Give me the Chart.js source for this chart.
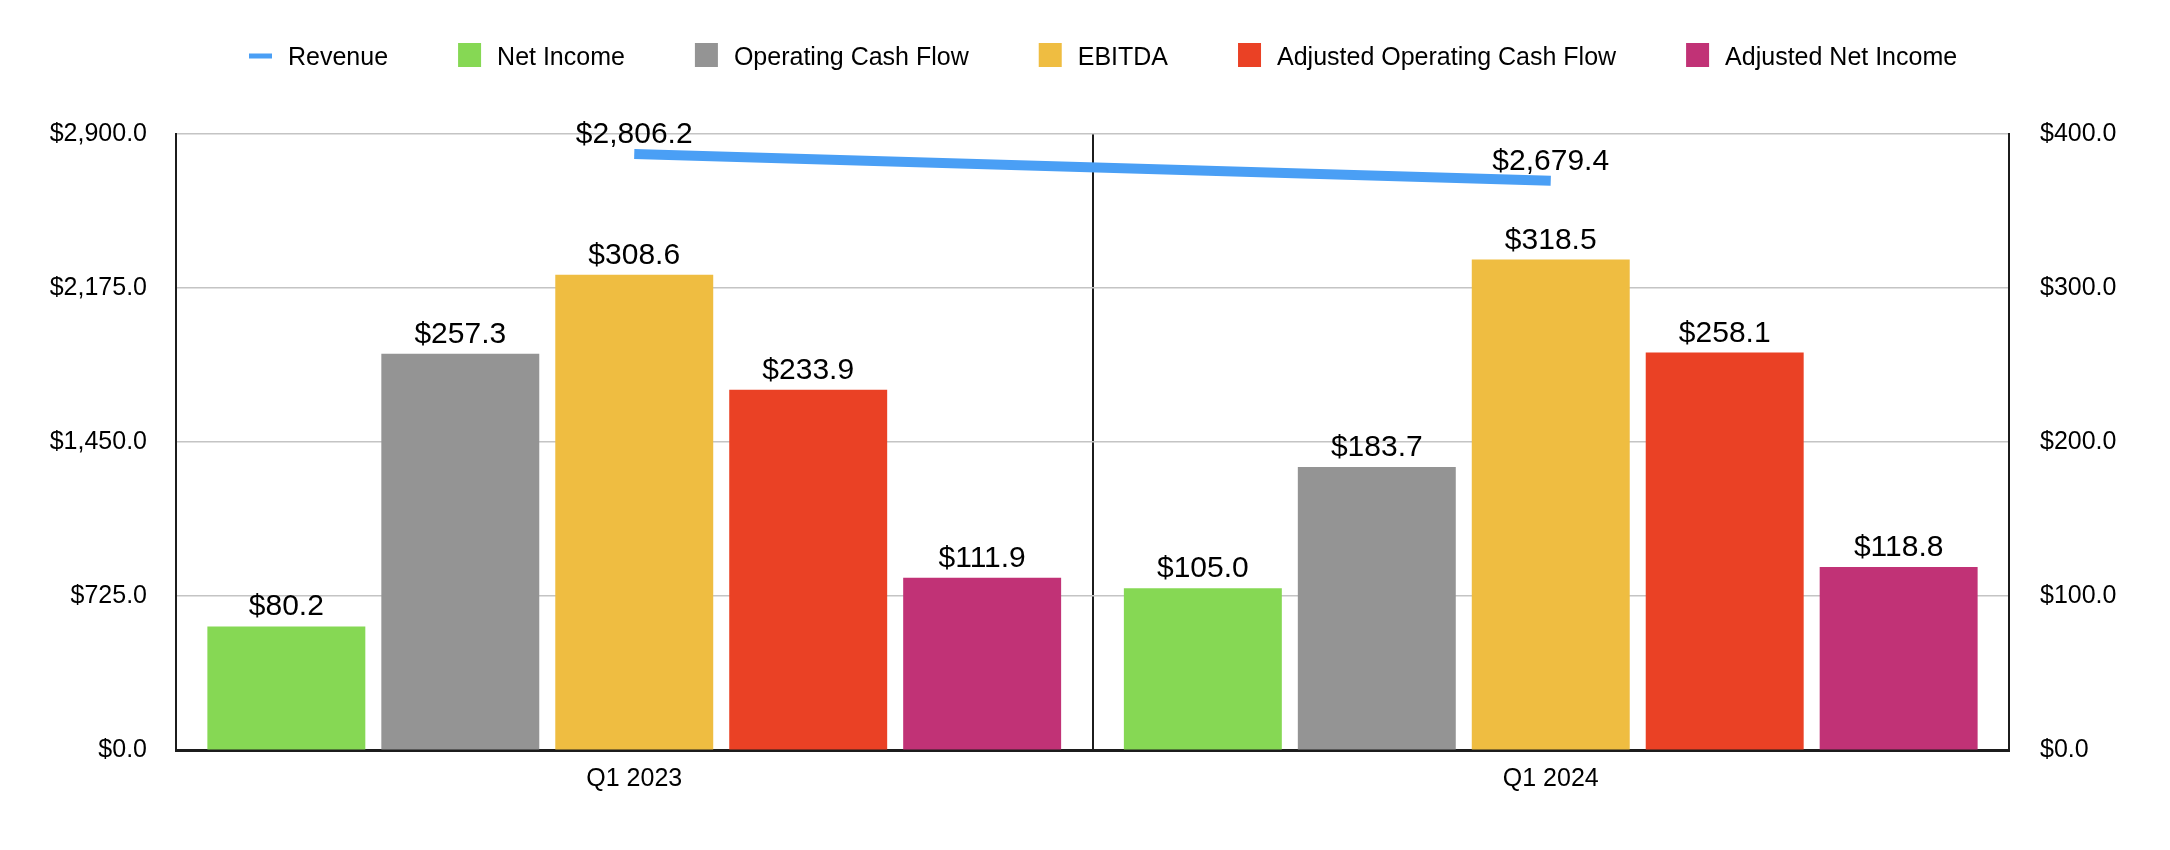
<!DOCTYPE html>
<html><head><meta charset="utf-8">
<script src="https://cdn.jsdelivr.net/npm/chart.js@4.4.1/dist/chart.umd.min.js"></script>
<style>html,body{margin:0;padding:0;background:#fff;} canvas{display:block;}</style>
</head><body>
<canvas id="c" width="2170" height="850" style="width:2170px;height:850px"></canvas>
<script>
const categories = ['Q1 2023', 'Q1 2024'];
const revenue = [2806.2, 2679.4];
const netIncome = [80.2, 105.0];
const operatingCashFlow = [257.3, 183.7];
const ebitda = [308.6, 318.5];
const adjustedOperatingCashFlow = [233.9, 258.1];
const adjustedNetIncome = [111.9, 118.8];
const leftTicks = [0, 725, 1450, 2175, 2900];
const rightTicks = [0, 100, 200, 300, 400];

const FONT = '"Liberation Sans", Arial, Helvetica, sans-serif';
const fmt = v => '$' + Number(v).toLocaleString('en-US', {minimumFractionDigits: 1, maximumFractionDigits: 1});

const legendPlugin = {
  id: 'customLegend',
  afterDraw(chart) {
    const ctx = chart.ctx;
    ctx.save();
    ctx.font = '25px ' + FONT;
    ctx.textBaseline = 'alphabetic';
    ctx.textAlign = 'left';
    let x = 249;
    chart.data.datasets.forEach(ds => {
      if (ds.type === 'line') {
        ctx.fillStyle = ds.borderColor;
        ctx.fillRect(x, 53.5, 23, 5);
      } else {
        ctx.fillStyle = ds.backgroundColor;
        ctx.fillRect(x, 43, 23, 24);
      }
      x += 23 + 16;
      ctx.fillStyle = '#000';
      ctx.fillText(ds.label, x, 65);
      x += ctx.measureText(ds.label).width + 70;
    });
    ctx.restore();
  }
};

const valueLabels = {
  id: 'valueLabels',
  afterDatasetsDraw(chart) {
    const ctx = chart.ctx;
    ctx.save();
    ctx.font = '30px ' + FONT;
    ctx.textAlign = 'center';
    ctx.textBaseline = 'alphabetic';
    ctx.fillStyle = '#000';
    chart.data.datasets.forEach((ds, i) => {
      const meta = chart.getDatasetMeta(i);
      meta.data.forEach((el, j) => {
        ctx.fillText(fmt(ds.data[j]), el.x, el.y - 11);
      });
    });
    ctx.restore();
  }
};

const dark = '#1c1c1c';

new Chart(document.getElementById('c'), {
  data: {
    labels: categories,
    datasets: [
      {type: 'line', label: 'Revenue', data: revenue, yAxisID: 'y', borderColor: '#4A9FF5', backgroundColor: '#4A9FF5',
       borderWidth: 10, pointRadius: 0, pointHoverRadius: 0, tension: 0, borderCapStyle: 'butt', fill: false},
      {type: 'bar', label: 'Net Income', data: netIncome, yAxisID: 'y1', backgroundColor: '#86D854'},
      {type: 'bar', label: 'Operating Cash Flow', data: operatingCashFlow, yAxisID: 'y1', backgroundColor: '#949494'},
      {type: 'bar', label: 'EBITDA', data: ebitda, yAxisID: 'y1', backgroundColor: '#EFBD41'},
      {type: 'bar', label: 'Adjusted Operating Cash Flow', data: adjustedOperatingCashFlow, yAxisID: 'y1', backgroundColor: '#EA4125'},
      {type: 'bar', label: 'Adjusted Net Income', data: adjustedNetIncome, yAxisID: 'y1', backgroundColor: '#C13276'}
    ]
  },
  options: {
    responsive: false,
    devicePixelRatio: 1,
    animation: false,
    layout: {padding: {top: 134, left: 0, right: 0, bottom: 0}},
    datasets: {bar: {categoryPercentage: 0.949, barPercentage: 0.908}},
    plugins: {legend: {display: false}, tooltip: {enabled: false}},
    scales: {
      x: {
        type: 'category', offset: true, z: 1,
        grid: {color: dark, lineWidth: 2, drawTicks: false, offset: true},
        border: {color: dark, width: 3},
        ticks: {color: '#000', font: {family: FONT, size: 25}, padding: 14},
        afterFit: s => { s.height = 100; }
      },
      y: {
        position: 'left', min: 0, max: 2900,
        afterBuildTicks: s => { s.ticks = leftTicks.map(v => ({value: v})); },
        grid: {color: '#c4c4c4', lineWidth: 1.5, drawTicks: false},
        border: {color: dark, width: 2},
        ticks: {color: '#000', font: {family: FONT, size: 25}, padding: 29, callback: v => fmt(v)},
        afterFit: s => { s.width = 176; }
      },
      y1: {
        position: 'right', min: 0, max: 400,
        afterBuildTicks: s => { s.ticks = rightTicks.map(v => ({value: v})); },
        grid: {drawOnChartArea: false, drawTicks: false},
        border: {color: dark, width: 2},
        ticks: {color: '#000', font: {family: FONT, size: 25}, padding: 31, callback: v => fmt(v)},
        afterFit: s => { s.width = 161; }
      }
    }
  },
  plugins: [legendPlugin, valueLabels]
});
</script>
</body></html>
